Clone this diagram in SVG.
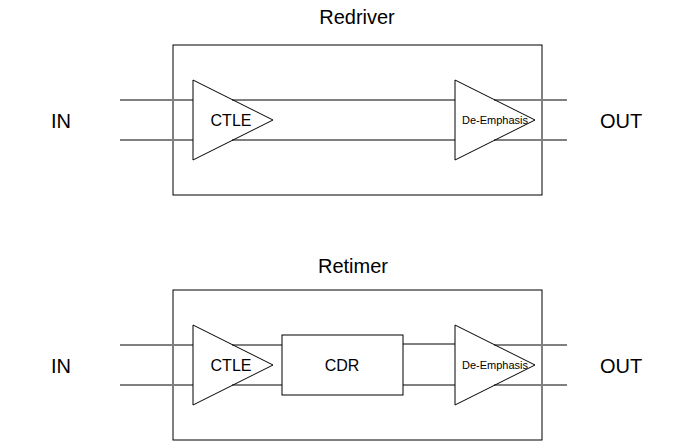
<svg xmlns="http://www.w3.org/2000/svg" width="682" height="442" viewBox="0 0 682 442">
<style>
.b{fill:#fff;stroke:#000;stroke-width:1}
.w{stroke:#000;stroke-width:1;fill:none}
.g{stroke:#808080;stroke-width:2;fill:none}
text{font-family:"Liberation Sans",Arial,sans-serif;fill:#000;text-anchor:middle;dominant-baseline:central}
.l{font-size:20px}.m{font-size:16px}.s{font-size:11px}
</style>
<rect width="682" height="442" fill="#fff"/>
<g id="redriver-box"><rect class="b" x="173" y="45" width="369" height="150"/></g>
<g id="retimer-box"><rect class="b" x="173" y="290" width="369" height="150"/></g>
<g id="connectors">
<line class="g" x1="120" y1="100" x2="193" y2="100"/><line class="g" x1="120" y1="140" x2="193" y2="140"/>
<line class="w" x1="232" y1="100" x2="455" y2="100"/><line class="w" x1="232" y1="140" x2="455" y2="140"/>
<line class="g" x1="494" y1="100" x2="567" y2="100"/><line class="g" x1="494" y1="140" x2="567" y2="140"/>
<line class="g" x1="120" y1="345" x2="193" y2="345"/><line class="g" x1="120" y1="385" x2="193" y2="385"/>
<line class="w" x1="232" y1="345" x2="282" y2="345"/><line class="w" x1="232" y1="385" x2="282" y2="385"/>
<line class="w" x1="403" y1="344" x2="455" y2="344"/><line class="w" x1="403" y1="385" x2="455" y2="385"/>
<line class="g" x1="494" y1="345" x2="567" y2="345"/><line class="g" x1="494" y1="385" x2="567" y2="385"/>
</g>
<g id="ctle1"><polygon class="b" points="193,80 273,120 193,160" fill-opacity="0"/><text class="m" x="231" y="120">CTLE</text></g>
<g id="deemph1"><polygon class="b" points="455,80 535,120 455,160" fill-opacity="0"/><text class="s" x="495" y="120">De-Emphasis</text></g>
<g id="ctle2"><polygon class="b" points="193,325 273,365 193,405" fill-opacity="0"/><text class="m" x="231" y="365">CTLE</text></g>
<g id="cdr"><rect class="b" x="282" y="335" width="121" height="60"/><text class="m" x="342" y="365">CDR</text></g>
<g id="deemph2"><polygon class="b" points="455,325 535,365 455,405" fill-opacity="0"/><text class="s" x="495" y="365">De-Emphasis</text></g>
<g id="labels">
<text class="l" x="357" y="17">Redriver</text>
<text class="l" x="353" y="266">Retimer</text>
<text class="l" x="61" y="121">IN</text>
<text class="l" x="621" y="121">OUT</text>
<text class="l" x="61" y="366">IN</text>
<text class="l" x="621" y="366">OUT</text>
</g>
</svg>
